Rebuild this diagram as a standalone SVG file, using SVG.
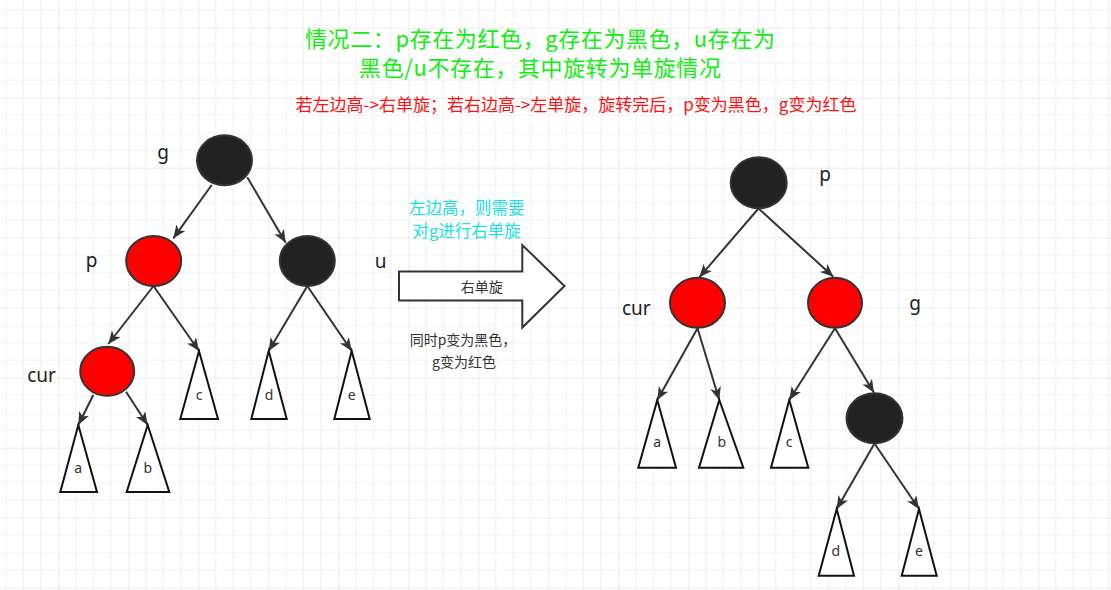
<svg xmlns="http://www.w3.org/2000/svg" width="1111" height="590" viewBox="0 0 1111 590">
<style>
.blk{fill:#222222;stroke:#333333;stroke-width:2}
.red{fill:#ff0000;stroke:#333333;stroke-width:2}
.tri{fill:#ffffff;stroke:#111111;stroke-width:2}
.edge{stroke:#333333;stroke-width:2;fill:none;marker-end:url(#ah)}
.lbl{font-family:"Noto Sans","Liberation Sans",sans-serif;font-size:19px;fill:#222222;text-anchor:middle}
.leaf{font-family:"Noto Sans","Liberation Sans",sans-serif;font-size:14px;fill:#333333;text-anchor:middle}
.cjk{font-family:"Noto Sans CJK SC","Noto Sans",sans-serif;text-anchor:middle}
</style>
<defs>
<pattern id="grid" patternUnits="userSpaceOnUse" x="-11.7" y="27.7" width="70" height="70">
<path d="M17.5 0V70M35 0V70M52.5 0V70M0 17.5H70M0 35H70M0 52.5H70" stroke="#f2f2f2" stroke-width="1.2" fill="none"/>
<path d="M0 0V70M0 0H70" stroke="#e6e6e6" stroke-width="1.4" fill="none"/>
</pattern>
<marker id="ah" markerUnits="userSpaceOnUse" markerWidth="16" markerHeight="12" refX="13" refY="5.5" orient="auto">
<path d="M0 0 L13 5.5 L0 11 L3.5 5.5 Z" fill="#333333"/>
</marker>
</defs>
<rect width="1111" height="590" fill="#ffffff"/>
<rect width="1111" height="590" fill="url(#grid)"/>

<g id="title">
<text class="cjk" x="540" y="47" font-size="22" fill="#11ee11" textLength="470" lengthAdjust="spacing">情况二：p存在为红色，g存在为黑色，u存在为</text>
<text class="cjk" x="540" y="76" font-size="22" fill="#11ee11" textLength="362" lengthAdjust="spacing">黑色/u不存在，其中旋转为单旋情况</text>
<text class="cjk" x="576" y="111" font-size="17" fill="#ff1111">若左边高-&gt;右单旋；若右边高-&gt;左单旋，旋转完后，p变为黑色，g变为红色</text>
</g>

<g id="connectors">
<line class="edge" x1="211.7" y1="185" x2="173.3" y2="238.3"/>
<line class="edge" x1="247.3" y1="177.3" x2="285.7" y2="242.7"/>
<line class="edge" x1="153.5" y1="286" x2="108.3" y2="344"/>
<line class="edge" x1="153.5" y1="286" x2="199" y2="351"/>
<line class="edge" x1="307.3" y1="286" x2="268.7" y2="351"/>
<line class="edge" x1="307.3" y1="286" x2="351.7" y2="351"/>
<line class="edge" x1="93.3" y1="395" x2="78.3" y2="425"/>
<line class="edge" x1="126" y1="391.7" x2="147.7" y2="425"/>
<line class="edge" x1="758.5" y1="208.5" x2="699.3" y2="277.3"/>
<line class="edge" x1="758.5" y1="208.5" x2="833.3" y2="276.7"/>
<line class="edge" x1="697.5" y1="328.3" x2="657.3" y2="400"/>
<line class="edge" x1="697.5" y1="328.3" x2="719.3" y2="400"/>
<line class="edge" x1="835" y1="328.3" x2="789.3" y2="400"/>
<line class="edge" x1="835" y1="328.3" x2="874" y2="392.7"/>
<line class="edge" x1="874.5" y1="443.5" x2="836.7" y2="509"/>
<line class="edge" x1="874.5" y1="443.5" x2="919" y2="509"/>
</g>

<g id="L-g"><ellipse class="blk" cx="224.5" cy="160.3" rx="27.5" ry="25"/><text class="lbl" x="163" y="158.5">g</text></g>
<g id="L-p"><ellipse class="red" cx="153.7" cy="261" rx="27.5" ry="25"/><text class="lbl" x="91.7" y="266.5">p</text></g>
<g id="L-u"><ellipse class="blk" cx="307.3" cy="261" rx="27.5" ry="25"/><text class="lbl" x="380.5" y="267.5">u</text></g>
<g id="L-cur"><ellipse class="red" cx="107.2" cy="371.3" rx="27" ry="24.5"/><text class="lbl" x="41.5" y="382">cur</text></g>
<g id="L-a"><polygon class="tri" points="78.3,425 97,492 60.3,492"/><text class="leaf" x="78.3" y="472.5">a</text></g>
<g id="L-b"><polygon class="tri" points="147.7,425 169.3,492 126.7,492"/><text class="leaf" x="147.7" y="472.5">b</text></g>
<g id="L-c"><polygon class="tri" points="199,351 218,419 180.3,419"/><text class="leaf" x="199" y="399.5">c</text></g>
<g id="L-d"><polygon class="tri" points="268.7,351 286.7,419 251.3,419"/><text class="leaf" x="269" y="399.5">d</text></g>
<g id="L-e"><polygon class="tri" points="351.7,351 369.7,419 334.3,419"/><text class="leaf" x="351.7" y="399.5">e</text></g>

<g id="rotate-arrow">
<polygon points="399,271.5 522.3,271.5 522.3,245 564.5,286 522.3,327.5 522.3,300.5 399,300.5" fill="#ffffff" stroke="#333333" stroke-width="2"/>
<text class="cjk" x="481.7" y="292.3" font-size="14" fill="#333333">右单旋</text>
</g>
<g id="note-top">
<text class="cjk" x="466.7" y="214" font-size="16.5" fill="#17e0e6">左边高，则需要</text>
<text class="cjk" x="466.7" y="236.5" font-size="16.5" fill="#17e0e6">对g进行右单旋</text>
</g>
<g id="note-bottom">
<text class="cjk" x="463" y="344.6" font-size="14" fill="#333333">同时p变为黑色，</text>
<text class="cjk" x="464" y="367" font-size="14" fill="#333333">g变为红色</text>
</g>

<g id="R-p"><ellipse class="blk" cx="758.7" cy="182.8" rx="28" ry="25.5"/><text class="lbl" x="825" y="181">p</text></g>
<g id="R-cur"><ellipse class="red" cx="697.5" cy="302.8" rx="27.5" ry="25"/><text class="lbl" x="636.3" y="315">cur</text></g>
<g id="R-g"><ellipse class="red" cx="835" cy="302.8" rx="27" ry="25"/><text class="lbl" x="915" y="309.5">g</text></g>
<g id="R-u"><ellipse class="blk" cx="874.5" cy="418.3" rx="28" ry="25"/></g>
<g id="R-a"><polygon class="tri" points="657.3,400 676,467.7 638.3,467.7"/><text class="leaf" x="657.3" y="447">a</text></g>
<g id="R-b"><polygon class="tri" points="719.3,400 743.3,467.7 699,467.7"/><text class="leaf" x="721.7" y="447">b</text></g>
<g id="R-c"><polygon class="tri" points="789.3,400 808.3,467.7 771,467.7"/><text class="leaf" x="789" y="447">c</text></g>
<g id="R-d"><polygon class="tri" points="836.7,509 854,575.7 818.7,575.7"/><text class="leaf" x="835.7" y="555.5">d</text></g>
<g id="R-e"><polygon class="tri" points="919,509 936.7,575.7 901.7,575.7"/><text class="leaf" x="919" y="555.5">e</text></g>
</svg>
